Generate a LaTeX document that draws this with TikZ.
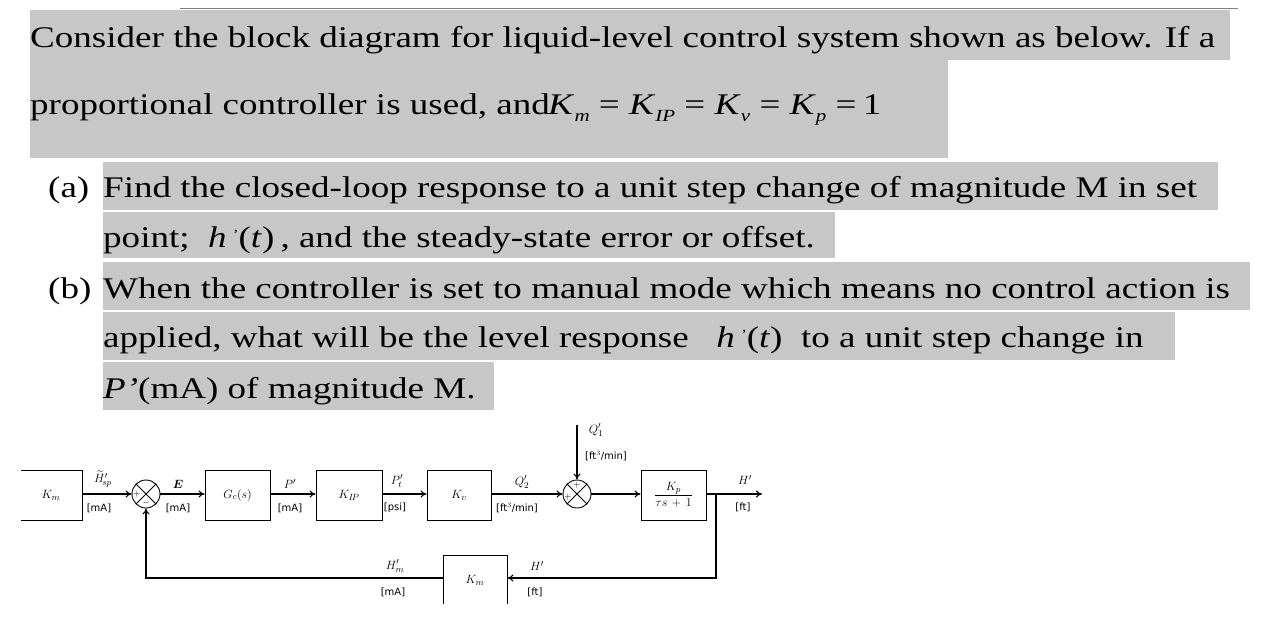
\documentclass[tikz,border=0pt]{standalone}
\usepackage{fontspec}
\usepackage{amsmath}
\usepackage{graphicx}
\setmainfont{Liberation Serif}
\newfontfamily\dsans{DejaVu Sans}
\usetikzlibrary{arrows.meta}
\newcommand{\widen}[1]{\scalebox{1.235}[1]{#1}}
\newcommand{\ksub}[1]{\textit{K}\raisebox{-7pt}{\fontsize{17}{17}\selectfont\textit{#1}}}
\begin{document}
\begin{tikzpicture}[x=1pt,y=-1pt,
  hl/.style={fill=black!22,draw=none},
  txt/.style={anchor=base west,inner sep=0pt,font=\fontsize{30}{30}\selectfont},
  blk/.style={draw,line width=0.9pt,minimum width=64pt,minimum height=50pt,inner sep=0pt},
  sumc/.style={draw,circle,line width=0.9pt,minimum size=28pt,inner sep=0pt},
  sig/.style={line width=1.1pt,-{To[length=6pt,width=7pt]}},
  lab/.style={font=\fontsize{13}{13}\selectfont,inner sep=1pt},
  unit/.style={font=\dsans\fontsize{10}{10}\selectfont,inner sep=1pt}]
\useasboundingbox (0,0) rectangle (1269,630);
% highlights
\fill[hl] (30,10) rectangle (1230,60);
\fill[hl] (30,60) rectangle (948,158);
\draw[black!50,line width=0.6pt] (180,8) -- (1238,8);
\fill[hl] (103,162) rectangle (1218,210);
\fill[hl] (103,212) rectangle (835,258);
\fill[hl] (103,262) rectangle (1250,310);
\fill[hl] (103,312) rectangle (1175,360);
\fill[hl] (103,362) rectangle (494,410);
% text
\node[txt] (t1) at (30,47) {\widen{Consider the block diagram for liquid-level control system shown as below. If a}};
\node[txt] (t2) at (30,114) {\widen{proportional controller is used, and}};
\node[txt] (t2m) at (548,114) {\widen{\ksub{m}\ = \ksub{IP}\ = \ksub{v}\ = \ksub{p}\ =\,1}};
\node[txt] (ta) at (48,197) {\widen{(a)}};
\node[txt] (ta1) at (103,197) {\widen{Find the closed-loop response to a unit step change of magnitude M in set}};
\node[txt] (ta2) at (103,247) {\widen{point;\ \ \textit{h}\,\raisebox{8pt}{\fontsize{14}{14}\selectfont '}(\textit{t})\,, and the steady-state error or offset.}};
\node[txt] (tb) at (48,298) {\widen{(b)}};
\node[txt] (tb1) at (103,298) {\widen{When the controller is set to manual mode which means no control action is}};
\node[txt] (tb2) at (103,347) {\widen{applied, what will be the level response\ \ \ \textit{h}\,\raisebox{8pt}{\fontsize{14}{14}\selectfont '}(\textit{t})\ \ to a unit step change in}};
\node[txt] (tb3) at (103,398) {\widen{\textit{P'}(mA) of magnitude M.}};
% diagram
\begin{scope}[font=\fontsize{13}{13}\selectfont]
\node[blk,minimum width=62pt] (km1) at (51,495) {$K_m$};
\fill[white] (18,468) rectangle (20.5,522);
\node[sumc] (s1) at (146,494) {};
\draw[line width=0.9pt] (s1.north west) -- (s1.south east) (s1.north east) -- (s1.south west);
\node[lab,font=\fontsize{9}{9}\selectfont] at (137,494) {$+$};
\node[lab,font=\fontsize{9}{9}\selectfont] at (146,503) {$-$};
\node[blk,minimum width=65pt] (gc) at (237.5,495) {$G_c(s)$};
\node[blk,minimum width=66pt] (kip) at (349,495) {$K_{I\!P}$};
\node[blk,minimum width=64pt] (kv) at (459,495) {$K_v$};
\node[sumc] (s2) at (577,494) {};
\draw[line width=0.9pt] (s2.north west) -- (s2.south east) (s2.north east) -- (s2.south west);
\node[lab,font=\fontsize{9}{9}\selectfont] at (577,485) {$+$};
\node[lab,font=\fontsize{9}{9}\selectfont] at (568,497) {$+$};
\node[blk,minimum width=65pt] (kp) at (673.5,495) {$\dfrac{K_p}{\tau s\,+\,1}$};
\node[draw,line width=0.9pt,minimum width=64pt,minimum height=50pt] (km2) at (475,580) {$K_m$};
\fill[white] (440,604) rectangle (510,612);
\coordinate (out) at (762,494);
\coordinate (br) at (716,494);
\coordinate (q1) at (577,425);
\draw[sig] (km1.east |- s1) -- (s1);
\draw[sig] (s1) -- (gc.west |- s1);
\draw[sig] (gc.east |- s1) -- (kip.west |- s1);
\draw[sig] (kip.east |- s1) -- (kv.west |- s1);
\draw[sig] (kv.east |- s1) -- (s2);
\draw[sig] (s2) -- (kp.west |- s2);
\draw[sig] (kp.east |- s2) -- (out);
\draw[sig] (q1) -- (s2);
\draw[sig] (br) |- (km2.east |- 0,578);
\draw[sig] (km2.west |- 0,578) -| (s1);
\node[lab] at (103,479) {$\widetilde{H}'_{\!sp}$};
\node[unit] at (99,508) {[mA]};
\node[lab] at (178,484) {$\boldsymbol{E}$};
\node[unit] at (178,508) {[mA]};
\node[lab] at (290,484) {$P'$};
\node[unit] at (290,508) {[mA]};
\node[lab] at (397,481) {$P'_t$};
\node[unit] at (395,508) {[psi]};
\node[lab] at (522,482) {$Q'_2$};
\node[unit] at (517,508) {[ft$^3$/min]};
\node[lab] at (596,430) {$Q'_1$};
\node[unit] at (606,456) {[ft$^3$/min]};
\node[lab] at (745,480) {$H'$};
\node[unit] at (743,507) {[ft]};
\node[lab] at (395,566) {$H'_m$};
\node[unit] at (393,592) {[mA]};
\node[lab] at (537,566) {$H'$};
\node[unit] at (535,592) {[ft]};
\end{scope}
\end{tikzpicture}
\end{document}
